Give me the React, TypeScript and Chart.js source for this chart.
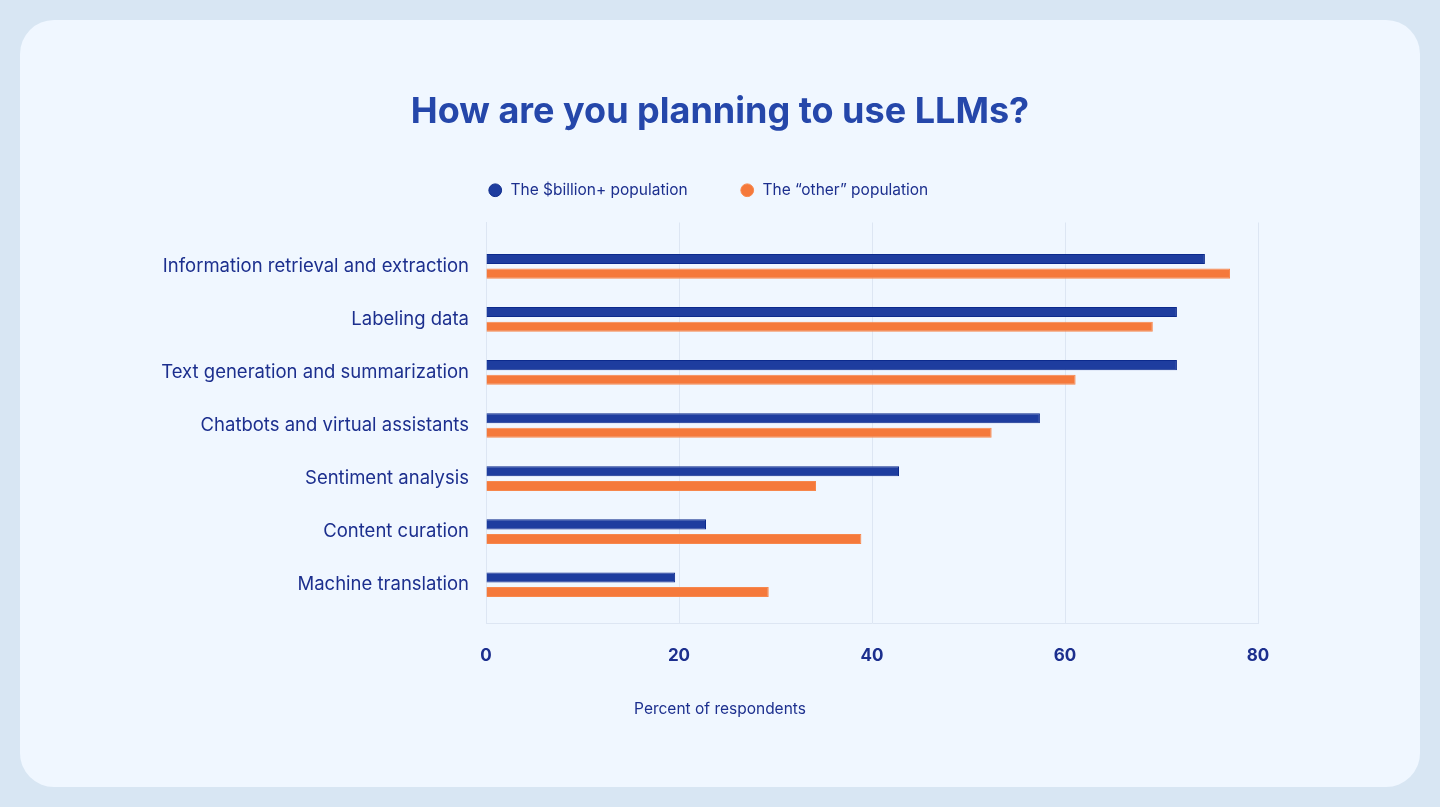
import { useEffect, useRef } from "react";
import { Chart } from "chart.js/auto";

const categories = [
  "Information retrieval and extraction",
  "Labeling data",
  "Text generation and summarization",
  "Chatbots and virtual assistants",
  "Sentiment analysis",
  "Content curation",
  "Machine translation",
];
const billionPop = [74.5, 71.6, 71.6, 57.4, 42.8, 22.8, 19.6];
const otherPop = [77.1, 69.1, 61.1, 52.4, 34.2, 38.9, 29.3];
const xTicks = [0, 20, 40, 60, 80];

const NAVY = "#1c2f8e";
const BLUE = "#1e3d9f";
const ORANGE = "#f5793b";
const GRID = "#dde6f3";
const FONT = "Inter, 'Open Sans', sans-serif";

// empty axes used only as spacers
const spacer = (size: number, horizontal: boolean) => ({
  display: true,
  ticks: { display: false },
  grid: { display: false, drawTicks: false },
  border: { display: false },
  afterFit: (s: any) => {
    if (horizontal) s.height = size;
    else s.width = size;
  },
});

// legend sits a little left of centre in the original
const nudgeLegend = {
  id: "nudgeLegend",
  afterLayout(chart: any) {
    if (chart.legend) {
      chart.legend.left -= 12;
      chart.legend.right -= 12;
    }
  },
};

export default function App() {
  const ref = useRef<HTMLCanvasElement>(null);

  useEffect(() => {
    if (!ref.current) return;
    const chart = new Chart(ref.current, {
      type: "bar",
      data: {
        datasets: [
          {
            label: "The $billion+ population",
            data: billionPop.map((v, i) => ({ x: v, y: i })),
            backgroundColor: BLUE,
            borderColor: "#0c2a8c",
            borderWidth: 1,
            categoryPercentage: 0.55,
            barPercentage: 0.69,
          },
          {
            label: "The \u201cother\u201d population",
            data: otherPop.map((v, i) => ({ x: v, y: i })),
            backgroundColor: ORANGE,
            borderColor: "#f7874c",
            borderWidth: 1,
            categoryPercentage: 0.55,
            barPercentage: 0.69,
          },
        ],
      },
      options: {
        indexAxis: "y",
        animation: false,
        responsive: true,
        maintainAspectRatio: false,
        layout: { padding: { top: 74.5, right: 0, bottom: 28, left: 0 } },
        plugins: {
          title: {
            display: true,
            text: "How are you planning to use LLMs?",
            color: "#2547aa",
            font: { family: FONT, size: 36, weight: "bold", lineHeight: 1 },
            padding: 0,
          },
          subtitle: {
            display: true,
            position: "bottom",
            text: "Percent of respondents",
            color: NAVY,
            font: { family: FONT, size: 15.5 },
            padding: { top: 11, bottom: 40 },
          },
          legend: {
            labels: {
              usePointStyle: true,
              pointStyle: "circle",
              boxWidth: 15,
              boxHeight: 9,
              padding: 52,
              color: NAVY,
              font: { family: FONT, size: 15.5 },
            },
          },
          tooltip: { enabled: false },
        },
        scales: {
          x: {
            min: 0,
            max: 80,
            afterBuildTicks: (s: any) => {
              s.ticks = xTicks.map((v) => ({ value: v }));
            },
            ticks: { color: NAVY, font: { family: FONT, size: 17, weight: "bold" }, padding: 23 },
            grid: { color: GRID, drawTicks: false },
            border: { color: GRID },
          },
          xTop: { type: "linear", position: "top", ...spacer(14.5, true) },
          y: {
            type: "linear",
            reverse: true,
            offset: false,
            min: -0.825,
            max: 6.72,
            afterBuildTicks: (s: any) => {
              s.ticks = categories.map((_, i) => ({ value: i }));
            },
            afterFit: (s: any) => {
              s.width = 466;
            },
            ticks: {
              color: NAVY,
              font: { family: FONT, size: 18.5 },
              padding: 17,
              callback: (v: any) => categories[v as number] ?? "",
            },
            grid: { display: false, drawTicks: false },
            border: { color: GRID },
          },
          yRight: { type: "linear", position: "right", ...spacer(162, false) },
        },
      } as any,
      plugins: [nudgeLegend],
    });
    return () => chart.destroy();
  }, []);

  return (
    <div style={{ position: "fixed", inset: 0, background: "#d8e6f3" }}>
      <div
        style={{
          position: "absolute",
          left: 20,
          top: 20,
          width: 1400,
          height: 767,
          borderRadius: 34,
          background: "#f0f7ff",
          overflow: "hidden",
        }}
      >
        <canvas ref={ref} />
      </div>
    </div>
  );
}
